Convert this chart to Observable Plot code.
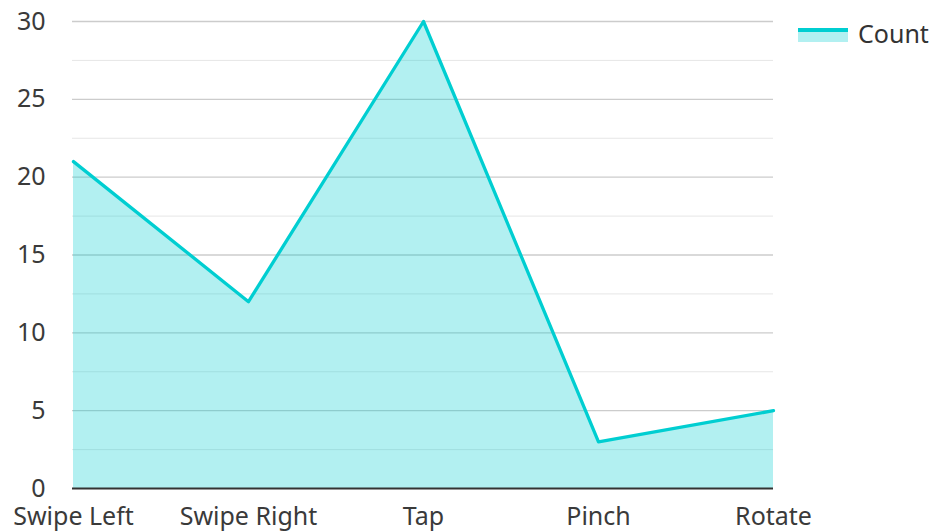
<!DOCTYPE html>
<html>
<head>
<meta charset="utf-8">
<script src="https://cdn.jsdelivr.net/npm/d3@7"></script>
<script src="https://cdn.jsdelivr.net/npm/@observablehq/plot@0.6"></script>
<style>
  html, body { margin: 0; padding: 0; background: #fff; }
  #wrap { position: relative; width: 931px; height: 531px; font-family: "Noto Sans", "Open Sans", sans-serif; }
  #legend { position: absolute; left: 798px; top: 16px; display: flex; align-items: center; font-size: 25px; color: #333; }
  #legend .sw { width: 50px; height: 14px; background: #b2f0f1; border-top: 4px solid #00CED1; box-sizing: border-box; margin-right: 10px; margin-top: 4px; }
</style>
</head>
<body>
<div id="wrap"><div id="legend"><div class="sw"></div><span>Count</span></div></div>
<script>
const gestures = ["Swipe Left", "Swipe Right", "Tap", "Pinch", "Rotate"];
const counts = [21, 12, 30, 3, 5];
const majorTicks = [0, 5, 10, 15, 20, 25, 30];
const minorTicks = [2.5, 7.5, 12.5, 17.5, 22.5, 27.5];
const seriesName = "Count";

const data = gestures.map((g, i) => ({gesture: g, count: counts[i]}));

const chart = Plot.plot({
  width: 931,
  height: 531,
  marginLeft: 72,
  marginRight: 158,
  marginTop: 21,
  marginBottom: 43,
  style: {fontFamily: "'Noto Sans', 'Open Sans', sans-serif", fontSize: "25px", color: "#3a3a3a", background: "#fff", overflow: "visible"},
  x: {type: "point", domain: gestures, padding: 0, label: null, tickSize: 0, tickPadding: 19},
  y: {domain: [0, 30], ticks: majorTicks, label: null, tickSize: 0, tickPadding: 27},
  marks: [
    Plot.ruleY(minorTicks, {stroke: "#e6e6e6", strokeWidth: 1}),
    Plot.ruleY(majorTicks.filter(d => d > 0), {stroke: "#cccccc", strokeWidth: 1.3}),
    Plot.areaY(data, {x: "gesture", y: "count", fill: "#00CED1", fillOpacity: 0.3}),
    Plot.lineY(data, {x: "gesture", y: "count", stroke: "#00CED1", strokeWidth: 3.3}),
    Plot.ruleY([0], {stroke: "#333", strokeWidth: 2})
  ]
});
document.getElementById("wrap").prepend(chart);
chart.style.position = "absolute";
chart.style.left = "0";
chart.style.top = "0";
</script>
</body>
</html>
